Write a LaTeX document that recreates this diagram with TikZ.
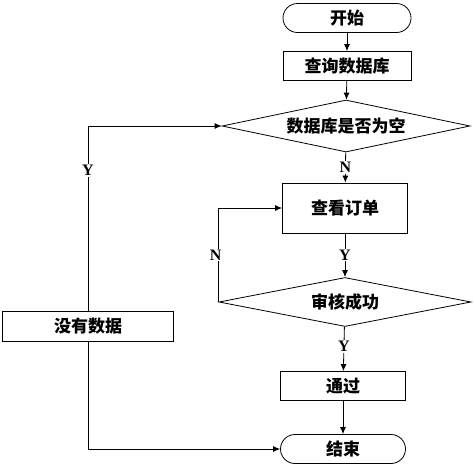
\documentclass[tikz,border=0pt]{standalone}
\usepackage{fontspec}
\setmainfont{Liberation Serif}
\newfontfamily\cjk{Noto Sans CJK SC}
\usetikzlibrary{shapes.geometric,arrows.meta}

\begin{document}
\begin{tikzpicture}[x=1pt,y=-1pt,-{Latex[length=7pt,width=6pt]},line width=0.8pt,
        box/.style={draw, rectangle, minimum width=128pt, minimum height=29pt, inner sep=0pt, font=\cjk\bfseries\fontsize{17}{17}\selectfont},
        term/.style={box, rounded corners=14.5pt},
        cond/.style={draw, diamond, inner sep=0pt, font=\cjk\bfseries\fontsize{17}{17}\selectfont},
        yn/.style={fill=white, inner sep=1pt, font=\bfseries\fontsize{16}{16}\selectfont}]

    \useasboundingbox (0,0) rectangle (474,467);

    \node[term] (start) at (347,18) {开始};
    \node[box] (query) at (347,66) {查询数据库};
    \node[cond, aspect=4.77, minimum width=248pt, minimum height=52pt] (empty) at (346,126) {数据库是否为空};
    \node[box, minimum width=125pt, minimum height=50pt] (order) at (345,208) {查看订单};
    \node[cond, aspect=5.14, minimum width=252pt, minimum height=49pt] (check) at (345,302) {审核成功};
    \node[box, minimum width=125pt] (pass) at (343,386) {通过};
    \node[term, minimum width=125pt] (finish) at (343,449) {结束};
    \node[box, minimum width=171pt, minimum height=30pt] (nodata) at (88,326) {没有数据};

    \path
    (start) edge (query)
    (query) edge (empty)
    (empty) edge node[yn] {N} (order)
    (order) edge node[yn] {Y} (check)
    (check) edge node[yn, pos=0.45] {Y} (pass)
    (pass) edge (finish);

    \draw (check.west) |- node[yn, pos=0.25, xshift=-3pt] {N} (order.west);
    \draw (nodata) |- node[yn, pos=0.38] {Y} (empty.west);
    \draw (nodata) |- (finish.west);

\end{tikzpicture}
\end{document}
